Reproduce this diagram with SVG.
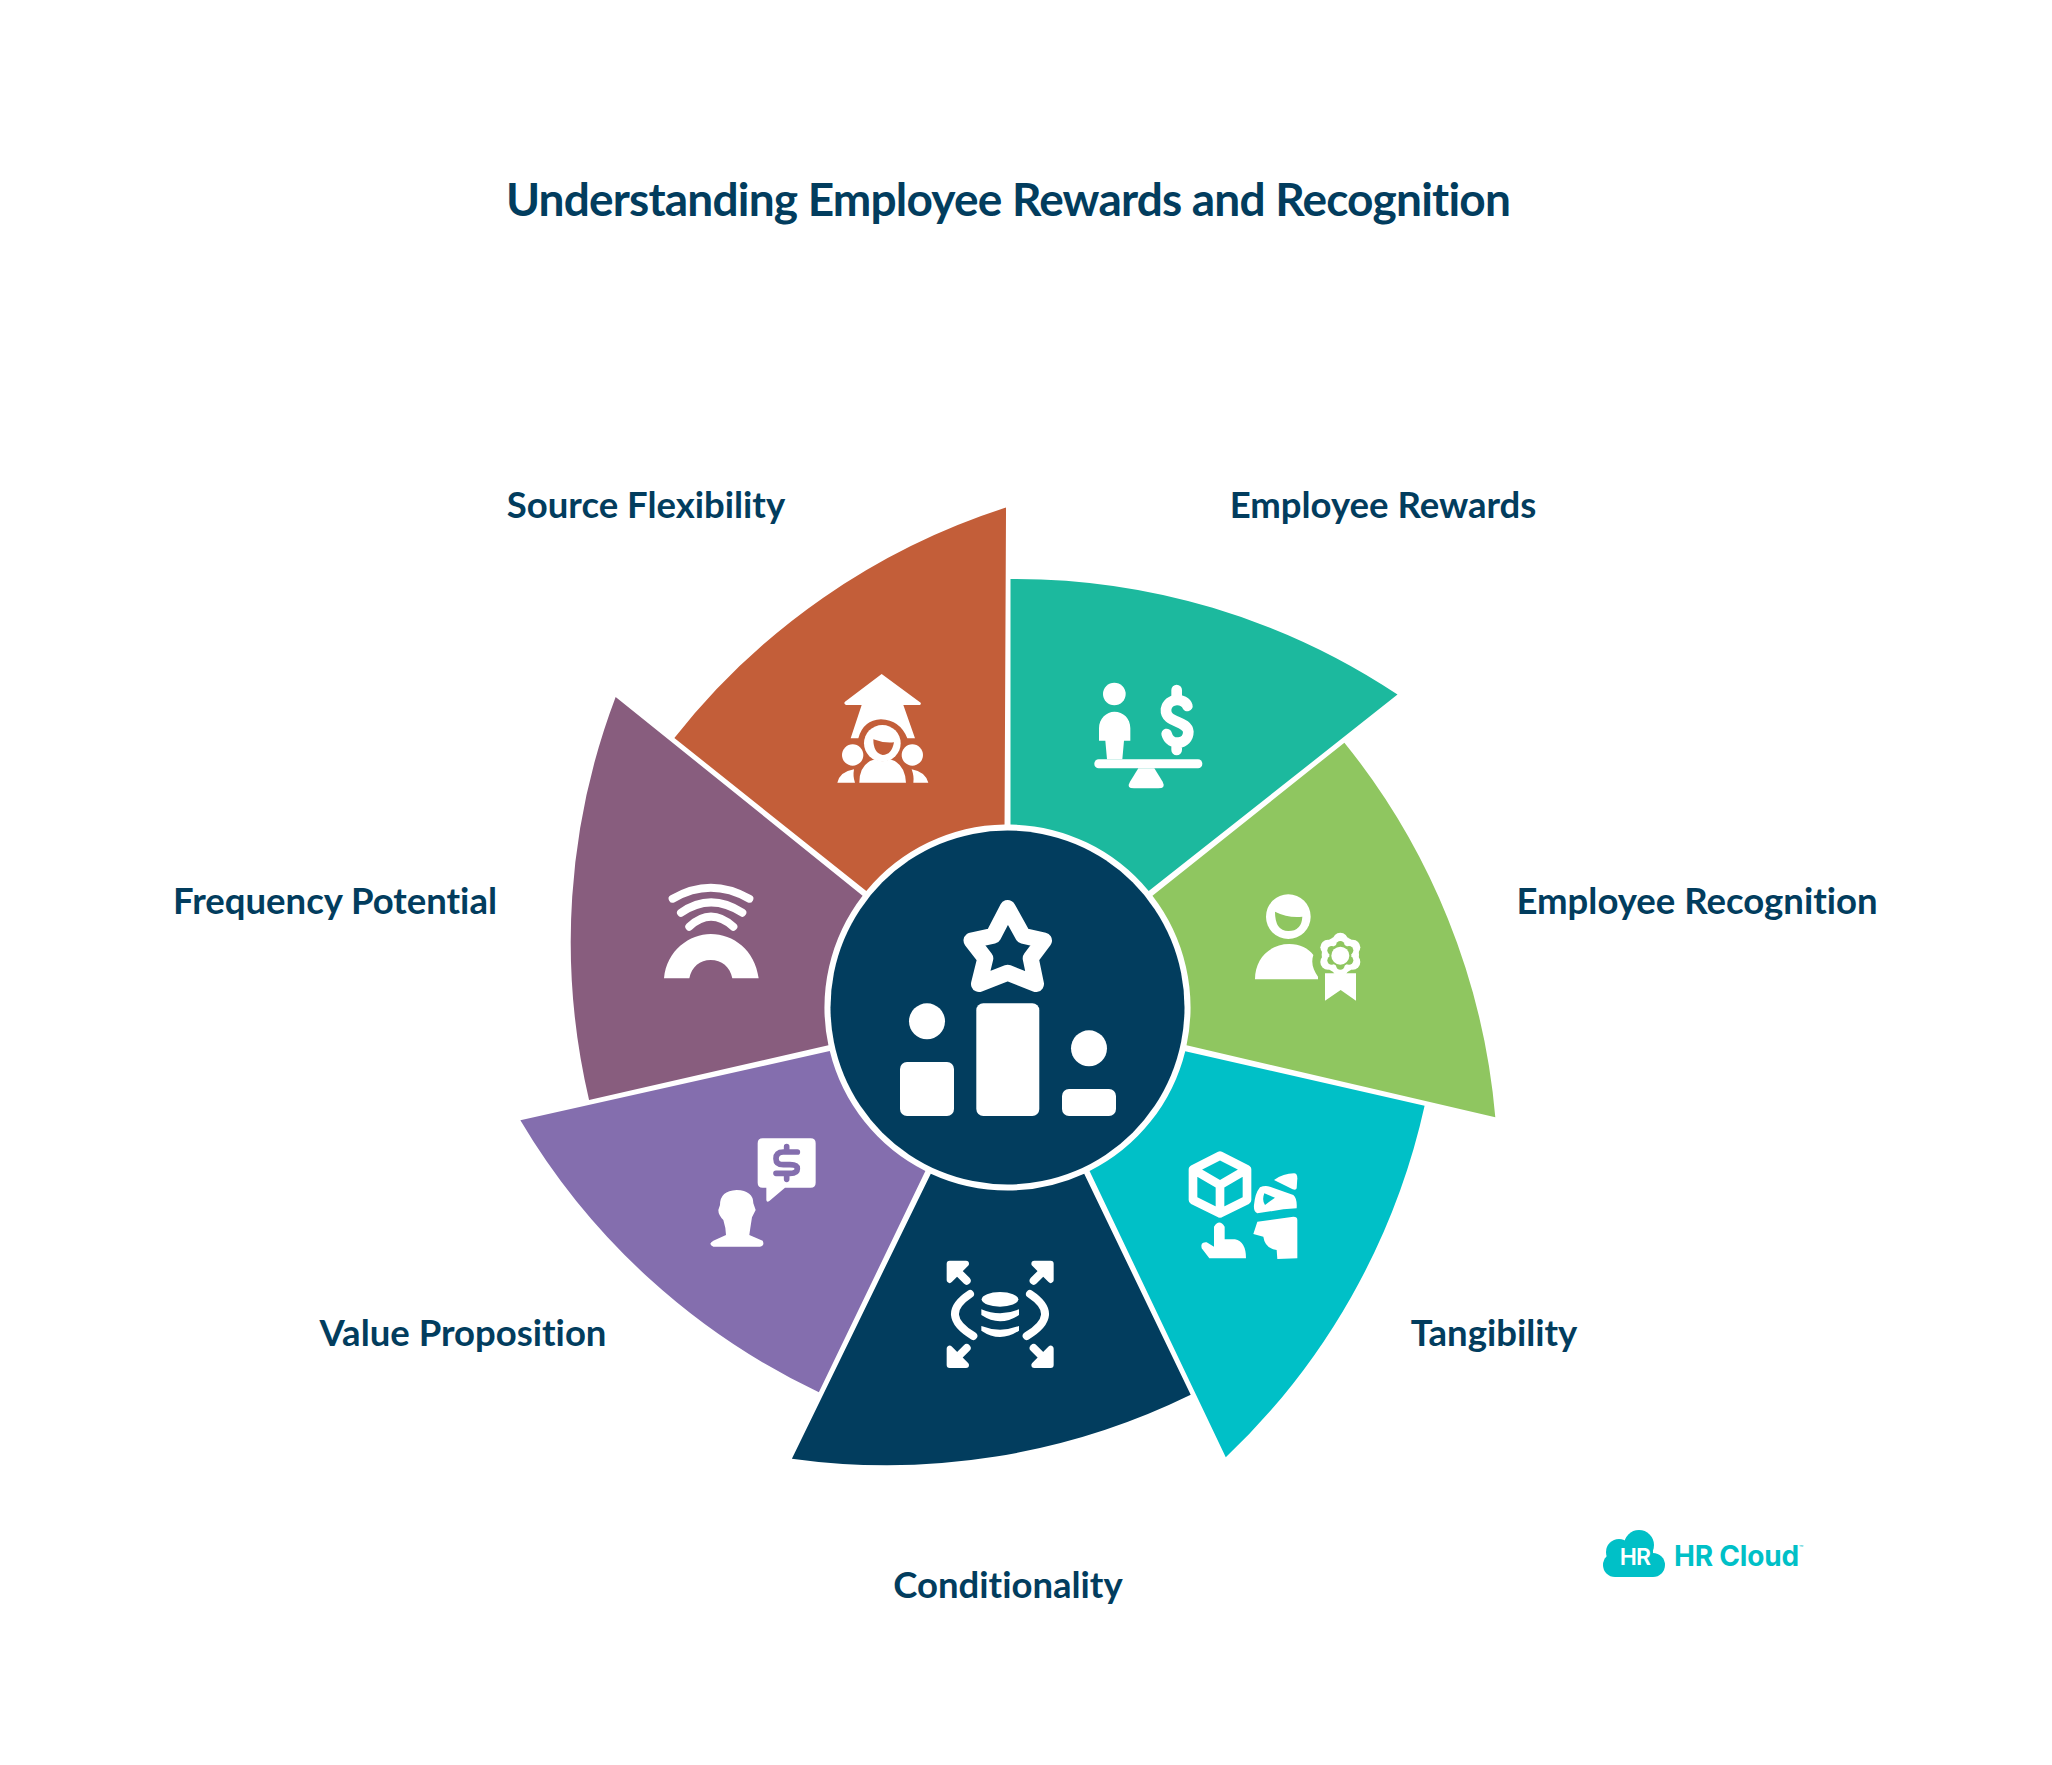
<svg xmlns="http://www.w3.org/2000/svg" width="2052" height="1765" viewBox="0 0 2052 1765">
<style>
text{font-family:Lato,"Liberation Sans",sans-serif;font-weight:700;fill:#023d5e;font-variant-ligatures:none}
.title{font-size:46px;text-anchor:middle;letter-spacing:-.8px}
.lbl{font-size:36.5px;text-anchor:middle}
.w{fill:#fff}
.ws{fill:none;stroke:#fff;stroke-linecap:round;stroke-linejoin:round}
</style>
<defs>
<path id="wedge" d="M1010.5 579A690 690 0 0 1 1397.5 694.6L1148.7 891.1A183 183 0 0 0 1010.5 824.5Z"/>
<g id="arr"><path d="M59 71L108 71L59 120Z" fill="#fff" stroke="#fff" stroke-width="18" stroke-linejoin="round"/><path d="M80 92L110 122" fill="none" stroke="#fff" stroke-width="24" stroke-linecap="round"/></g>
</defs>
<rect width="2052" height="1765" fill="#fff"/>
<text class="title" x="1008" y="216">Understanding Employee Rewards and Recognition</text>

<g id="node-employee-rewards">
<use href="#wedge" fill="#1cb99e"/>
<g transform="translate(1060 660) scale(.33333)">
<circle class="w" cx="163" cy="102" r="34"/>
<path class="w" d="M117 242L117 205C117 175 140 155 163 155C190 155 211 175 211 205L211 242L192 242L187 298L141 298L136 242Z"/>
<rect class="w" x="103" y="298" width="324" height="27" rx="13"/>
<path class="w" d="M235 325L283 325L308 365Q318 385 295 385L222 385Q198 385 210 365Z"/>
<path class="ws" stroke-width="32" d="M382 138C375 115 325 110 318 148C315 190 382 180 385 215C385 255 330 260 320 222M350 90L350 108M350 255L350 270"/>
</g>
<text class="lbl" x="1383" y="517.5">Employee Rewards</text>
</g>

<g id="node-employee-recognition">
<use href="#wedge" transform="rotate(51.4286 1007.5 1007.5)" fill="#8fc660"/>
<g transform="translate(1230 870) scale(.33333)">
<circle class="w" cx="175" cy="140" r="67"/>
<path fill="#8fc660" d="M135 125Q175 145 217 140Q215 183 175 183Q135 183 135 125Z"/>
<path class="w" d="M75 328C75 265 120 222 178 222C210 222 235 235 250 255C242 280 250 300 264 320L264 328Z"/>
<path class="w" d="M285 310L285 392L332 360L378 392L378 310Z"/>
<g class="w"><circle cx="331" cy="254" r="56"/><circle cx="331" cy="211" r="23"/><circle cx="368" cy="232" r="23"/><circle cx="368" cy="276" r="23"/><circle cx="331" cy="297" r="23"/><circle cx="294" cy="276" r="23"/><circle cx="294" cy="232" r="23"/></g>
<g fill="#8fc660"><circle cx="331" cy="256" r="33"/><circle cx="331" cy="226" r="13"/><circle cx="357" cy="241" r="13"/><circle cx="357" cy="271" r="13"/><circle cx="331" cy="286" r="13"/><circle cx="305" cy="271" r="13"/><circle cx="305" cy="241" r="13"/></g>
<circle class="w" cx="331" cy="257" r="27"/>
</g>
<text class="lbl" x="1697" y="914">Employee Recognition</text>
</g>

<g id="node-tangibility">
<use href="#wedge" transform="rotate(102.8571 1007.5 1007.5)" fill="#00c0c7"/>
<g transform="translate(1170 1130) scale(.33333)">
<path class="ws" stroke-width="26" d="M150 77L231 118L231 210L150 250L69 210L69 118ZM69 118L150 165L231 118M150 165L150 250"/>
<path class="w" d="M132 290Q148 265 164 290L164 328L195 328Q228 335 228 385L118 385L95 355Q90 335 110 337L132 350Z"/>
<path class="w" d="M312 150Q340 130 372 130Q382 130 382 145L380 175Q378 182 368 178Z"/>
<path class="w" fill-rule="evenodd" d="M270 172Q285 165 300 170L370 195Q382 205 380 235L340 238L262 250Q250 245 252 225Q255 190 270 172ZM283 190L315 203L285 225Q275 210 283 190Z"/>
<path class="w" d="M262 275L370 260Q382 260 382 270L382 385L322 387L320 360Q285 355 280 320L250 312Z"/>
</g>
<text class="lbl" x="1494" y="1345.5">Tangibility</text>
</g>

<g id="node-conditionality">
<use href="#wedge" transform="rotate(154.2857 1007.5 1007.5)" fill="#023d5e"/>
<g transform="translate(930 1240) scale(.33333)">
<use href="#arr"/>
<use href="#arr" transform="translate(421 0) scale(-1 1)"/>
<use href="#arr" transform="translate(0 446) scale(1 -1)"/>
<use href="#arr" transform="translate(421 446) scale(-1 -1)"/>
<path class="ws" stroke-width="24" d="M120 162Q25 225 130 288M300 162Q395 225 290 288"/>
<ellipse class="w" cx="210" cy="178" rx="55" ry="22"/>
<path class="w" d="M154 208Q210 232 267 208L267 225Q210 262 154 225Z"/>
<path class="w" d="M154 258Q210 280 267 258L267 272Q210 310 154 272Z"/>
</g>
<text class="lbl" x="1008" y="1598">Conditionality</text>
</g>

<g id="node-value-proposition">
<use href="#wedge" transform="rotate(205.7143 1007.5 1007.5)" fill="#846eae"/>
<g transform="translate(690 1120) scale(.33333)">
<path class="w" d="M218 55L362 55Q377 55 377 70L377 188Q377 203 362 203L285 203L238 243Q230 248 229 240L229 203L218 203Q203 203 203 188L203 70Q203 55 218 55Z"/>
<path fill="none" stroke="#846eae" stroke-width="17" stroke-linecap="round" stroke-linejoin="round" d="M322 96L280 96Q258 96 258 116Q258 134 280 134L300 134Q322 134 322 146Q322 160 300 160L258 160M290 80L290 96M290 160L290 178"/>
<path class="w" d="M140 210Q190 212 190 250L197 270L186 292Q180 330 178 345L218 362Q225 378 210 380L70 380Q52 372 70 362L108 345Q108 325 100 300Q85 285 85 270L90 255Q90 212 140 210Z"/>
</g>
<text class="lbl" x="463" y="1345.5">Value Proposition</text>
</g>

<g id="node-frequency-potential">
<use href="#wedge" transform="rotate(257.1429 1007.5 1007.5)" fill="#885d7e"/>
<g transform="translate(650 870) scale(.33333)">
<path class="ws" stroke-width="24" d="M68 86Q182 20 298 86M93 128Q182 66 277 128M118 170Q182 110 250 170"/>
<path class="w" d="M42 325C50 240 120 192 182 192C250 192 315 240 326 325L247 325C240 290 215 270 182 270C150 270 125 290 118 325Z"/>
</g>
<text class="lbl" x="335" y="914">Frequency Potential</text>
</g>

<g id="node-source-flexibility">
<use href="#wedge" transform="rotate(308.5714 1007.5 1007.5)" fill="#c35e39"/>
<g transform="translate(820 660) scale(.33333)">
<path class="w" d="M185 42L302 128Q305 135 295 135L250 135L285 235L262 235Q240 180 183 178Q130 180 115 235L92 235L125 135L78 135Q70 130 75 125Z"/>
<circle class="w" cx="187" cy="250" r="55"/>
<path fill="#c35e39" d="M160 238Q190 250 222 247Q215 285 188 285Q160 280 160 238Z"/>
<path class="w" d="M118 368Q118 310 165 298Q187 310 210 298Q255 310 258 368Z"/>
<circle class="w" cx="98" cy="285" r="32"/>
<circle class="w" cx="277" cy="285" r="32"/>
<path class="w" d="M52 368Q60 335 102 328Q98 350 105 368Z"/>
<path class="w" d="M275 328Q315 335 325 368L280 368Q283 350 275 328Z"/>
</g>
<text class="lbl" x="646" y="517.5">Source Flexibility</text>
</g>

<g id="node-center">
<circle cx="1007.5" cy="1007.5" r="177" fill="#023d5e"/>
<path class="ws" stroke-width="16" d="M1007.7 908L1023 935.7L1044 940.5L1030.7 958.3L1036 984L1007.7 972.7L979 984L985.3 958.3L971.5 940.5L993.3 935.7Z"/>
<circle class="w" cx="927" cy="1021.3" r="18"/>
<circle class="w" cx="1089" cy="1048.3" r="18"/>
<rect class="w" x="900" y="1062" width="54" height="54" rx="7"/>
<rect class="w" x="976.3" y="1003.3" width="63" height="112.7" rx="7"/>
<rect class="w" x="1062" y="1089" width="54" height="27" rx="7"/>
</g>

<g id="logo">
<g fill="#00c0c7"><circle cx="1639" cy="1545" r="15"/><circle cx="1619" cy="1552" r="13"/><circle cx="1615" cy="1565" r="12"/><circle cx="1653" cy="1565" r="12"/><rect x="1615" y="1550" width="38" height="27"/></g>
<text x="1635" y="1565" font-size="23" text-anchor="middle" style="fill:#fff;font-family:Inter,sans-serif;font-weight:600;letter-spacing:-.8px">HR</text>
<text x="1674" y="1566" font-size="28" style="fill:#00c0c7;font-family:Inter,sans-serif;font-weight:700;letter-spacing:-.2px">HR Cloud</text>
<text x="1799" y="1551" font-size="7" style="fill:#00c0c7;font-family:Inter,sans-serif;font-weight:400">™</text>
</g>
</svg>
